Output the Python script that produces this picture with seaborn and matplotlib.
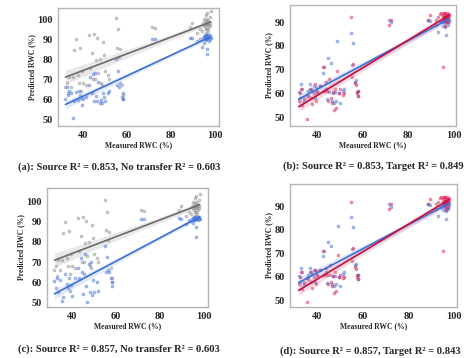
import numpy as np
import pandas as pd
import matplotlib
matplotlib.use("Agg")
import matplotlib.pyplot as plt
import seaborn as sns

# ---------------- data ----------------
measured = [32.0, 32.5, 33.0, 33.5, 34.5, 35.5, 36.0, 37.0, 37.5, 38.0,
            38.5, 39.0, 39.5, 40.0, 41.5, 42.5, 43.0, 44.0, 44.5, 45.0,
            45.5, 46.0, 46.5, 47.0, 47.5, 48.0, 48.5, 49.0, 49.5, 50.0,
            51.5, 52.0, 55.0, 55.5, 56.0, 56.5, 57.0, 57.5, 58.0, 58.0,
            71.5, 72.5, 88.5, 89.5,
            92.0, 93.0, 94.0, 94.5, 95.0, 95.0, 95.3, 95.5, 95.5, 95.8,
            96.0, 96.0, 96.2, 96.4, 96.5, 96.5, 96.8, 97.0, 97.0, 97.2,
            97.5, 97.5, 97.8, 98.0, 96.3, 95.7]

# (a) source model (grey) and no-transfer model (blue)
pred_source_a = [66, 68, 63, 71, 66, 71, 84.5, 89.8, 72, 68,
                 85.3, 64, 74, 68, 67, 92, 75.7, 83.2, 70, 92.3,
                 70, 79.5, 90.3, 73, 80, 68, 67, 88.3, 82, 74,
                 72, 70, 100.7, 85.7, 95, 81, 85, 67, 62, 60,
                 96, 95.5, 96, 98,
                 93, 95, 94, 98, 97, 100, 91, 99, 96, 95,
                 102, 98, 97, 95, 100, 103, 97, 99, 94, 96,
                 98, 101, 97, 104, 99, 93]
pred_notransfer_a = [60, 66, 62, 64, 63, 50.5, 59, 63.7, 59.5, 64,
                     62, 60.3, 57, 60, 61.2, 67, 71, 62.8, 72.5, 59,
                     73, 61.7, 59, 68.7, 58, 59.5, 58, 62.8, 61, 59,
                     63, 64, 80, 67, 74, 66, 68, 61, 60, 63,
                     90, 90, 90.5, 90.5,
                     89, 90, 86, 90.5, 91, 88, 90, 91.5, 92, 90.5,
                     91, 89.5, 92, 90, 91.5, 85, 92, 90.5, 91, 89,
                     92, 90, 91, 90.5, 82.5, 91]

# (b) source (blue) and target (red)
pred_source_b = [60.4, 58, 63.9, 62, 57, 59.4, 61, 64, 62, 61.2,
                 63, 58, 62.5, 61, 63, 68.8, 71, 62, 57.5, 74.8,
                 60.8, 73, 57, 60.2, 56, 60.5, 57, 81.9, 60, 56,
                 61.2, 62, 85.6, 72, 81.2, 65, 65.7, 60.8, 59, 61,
                 91, 90, 91, 90.5,
                 89, 86, 90, 90.5, 91, 88.5, 90, 91.5, 92, 90.5,
                 91, 89.5, 92, 90, 91.5, 84.5, 92, 90.5, 91, 89,
                 92, 90, 91, 90.5, 88, 91]
pred_target_b = [57, 60, 62, 55, 58, 49.2, 59, 62, 58, 55.5,
                 60, 64, 57, 60.8, 63, 71, 61, 65, 61, 57,
                 66, 58, 56, 60.4, 53, 62, 54, 69.5, 60, 62,
                 59.5, 60, 92.1, 67, 72.5, 64.3, 63.5, 60, 61, 59,
                 89, 91, 91, 93,
                 91, 92, 93.5, 94, 92, 71, 93, 94, 91, 93.5,
                 92.5, 94, 91, 93, 92, 90, 93, 92, 94, 91.5,
                 93, 90, 92.5, 93.5, 88.5, 92.5]

# (c) source model (grey) and no-transfer model (blue)
pred_source_c = pred_source_a
pred_notransfer_c = [60.5, 57, 62, 55, 61, 50.5, 52.5, 64, 59, 57,
                     62, 55.5, 58.5, 53, 62, 67, 62, 72, 65, 54,
                     64, 74, 58, 50, 69, 55, 70, 53.5, 61, 55,
                     60, 55.5, 78, 65, 72.5, 66, 65, 62, 58, 60,
                     91.5, 91.5, 92, 91.5,
                     89, 91, 90.5, 91.5, 92, 89.5, 91.5, 92, 92.5, 91.5,
                     92, 91, 92.5, 91.5, 92, 87.5, 92.5, 91.5, 92, 91,
                     92.5, 91.5, 92, 91.5, 82.5, 92]

# (d) source (blue) and target (red)
pred_source_d = pred_source_b
pred_target_d = [57, 60, 62, 55, 58, 49.2, 59, 62, 58, 55.5,
                 60, 63, 57, 60.8, 63, 71, 61, 64, 61, 57,
                 65, 58, 56, 60.4, 53, 62, 54, 69.5, 60, 61,
                 59.5, 60, 92.1, 67, 72.5, 64.3, 63.5, 60, 61, 59,
                 89, 91, 91, 93,
                 91, 92, 93.5, 94, 92, 71, 93, 94, 91, 93.5,
                 92.5, 94, 91, 93, 92, 90, 93, 92, 94, 91.5,
                 93, 90, 92.5, 93.5, 88.5, 92.5]

captions = ["(a): Source R\u00b2 = 0.853, No transfer R\u00b2 = 0.603",
            "(b): Source R\u00b2 = 0.853, Target R\u00b2 = 0.849",
            "(c): Source R\u00b2 = 0.857, No transfer R\u00b2 = 0.603",
            "(d): Source R\u00b2 = 0.857, Target R\u00b2 = 0.843"]

# ---------------- style ----------------
sns.set_style("white")
plt.rcParams['font.family'] = ['Liberation Serif', 'DejaVu Serif']

GREY = "#8a8a8a"
GREY_LINE = "#6b6b6b"
BLUE = "#3d6fd9"
RED = "#e0194f"
RED_LINE = "#c8103e"

fig = plt.figure(figsize=(4.74, 3.58), dpi=100)

panels = [
    dict(rect=[0.1224, 0.648, 0.3397, 0.3296], xlim=(28.6, 101.8), ylim=(46.5, 105.5),
         yticks=[50, 60, 70, 80, 90, 100],
         series=[(pred_source_a, GREY, GREY_LINE), (pred_notransfer_a, BLUE, BLUE)]),
    dict(rect=[0.6118, 0.648, 0.3502, 0.338], xlim=(28.2, 100.9), ylim=(46.3, 97.2),
         yticks=[50, 60, 70, 80, 90],
         series=[(pred_source_b, BLUE, BLUE), (pred_target_b, RED, RED_LINE)]),
    dict(rect=[0.0992, 0.1425, 0.3397, 0.3324], xlim=(28.6, 101.8), ylim=(47.7, 106.8),
         yticks=[50, 60, 70, 80, 90, 100],
         series=[(pred_source_c, GREY, GREY_LINE), (pred_notransfer_c, BLUE, BLUE)]),
    dict(rect=[0.6118, 0.1425, 0.3523, 0.3436], xlim=(28.2, 101.3), ylim=(47.2, 99.6),
         yticks=[50, 60, 70, 80, 90],
         series=[(pred_source_d, BLUE, BLUE), (pred_target_d, RED, RED_LINE)]),
]

cap_pos = [(119, 167), (373, 166), (119, 349), (370, 351)]

for p, cap, (cx, cy) in zip(panels, captions, cap_pos):
    ax = fig.add_axes(p['rect'])
    for yvals, col, lcol in p['series']:
        df = pd.DataFrame({"x": measured, "y": yvals})
        sns.regplot(data=df, x="x", y="y", ax=ax, ci=95, seed=0, color=col,
                    scatter_kws=dict(s=5, alpha=0.45, edgecolor=col, linewidths=0.4),
                    line_kws=dict(lw=1.2, color=lcol))
    ax.set_xlim(*p['xlim'])
    ax.set_ylim(*p['ylim'])
    ax.set_xticks([40, 60, 80, 100])
    ax.set_yticks(p['yticks'])
    ax.set_xlabel("Measured RWC (%)", fontsize=5.5, fontweight='bold', labelpad=1)
    ax.set_ylabel("Predicted RWC (%)", fontsize=5.5, fontweight='bold', labelpad=1)
    ax.tick_params(axis='both', labelsize=7.5, length=2, width=0.6, color="#999999", pad=1.5)
    for lab in ax.get_xticklabels() + ax.get_yticklabels():
        lab.set_fontweight('bold')
    for s in ax.spines.values():
        s.set_color("#b5b5b5")
        s.set_linewidth(1.0)
    fig.text(cx / 474, 1 - cy / 358, cap, ha='center', va='center',
             fontsize=7.6, fontweight='bold')

fig.savefig("out.png", dpi=100)
